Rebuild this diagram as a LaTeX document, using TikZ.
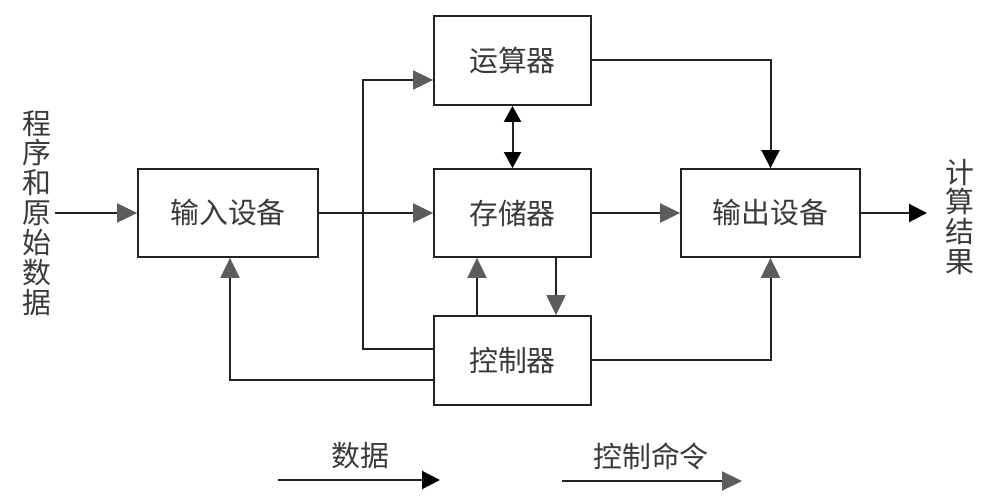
\documentclass[tikz,border=0pt]{standalone}
\usepackage{fontspec}
\newfontfamily\cjk{Noto Sans CJK SC}
\usetikzlibrary{arrows.meta}
\definecolor{ln}{HTML}{222222}
\definecolor{ctlgray}{HTML}{5C5C5C}
\definecolor{txt}{HTML}{3A3A3A}
\begin{document}
\begin{tikzpicture}[x=1bp,y=-1bp,
  box/.style={draw=ln,line width=1.8bp,inner sep=0pt,text=txt,
    font=\cjk\fontsize{29}{30}\selectfont},
  lbl/.style={inner sep=0pt,text=txt,align=center,
    font=\cjk\fontsize{29}{30}\selectfont},
  ctrl/.style={draw=ln,line width=2bp,
    -{Triangle[length=20bp,width=19bp,color=ctlgray]}},
  data/.style={draw=ln,line width=2bp,
    -{Triangle[length=18bp,width=18bp,color=black]}},
  both/.style={draw=ln,line width=2bp,
    {Triangle[length=16bp,width=17bp,color=black]}-{Triangle[length=16bp,width=17bp,color=black]}}]
\useasboundingbox (0,0) rectangle (992,502);
\node[box,minimum width=180bp,minimum height=88bp] (in) at (228,213) {输入设备};
\node[box,minimum width=157bp,minimum height=89bp] (alu) at (512.5,60.5) {运算器};
\node[box,minimum width=157bp,minimum height=88bp] (mem) at (512.5,213) {存储器};
\node[box,minimum width=157bp,minimum height=89bp] (ctl) at (512.5,360.5) {控制器};
\node[box,minimum width=179bp,minimum height=88bp] (out) at (770.5,213) {输出设备};
\node[lbl] (srclbl) at (37,213) {程\\序\\和\\原\\始\\数\\据};
\node[lbl] (reslbl) at (960,217) {计\\算\\结\\果};
\coordinate (src) at (55,213);
\coordinate (res) at (927,213);
\draw[ctrl] (src) -- (in.west);
\draw[ctrl] (in.east) -- (mem.west);
\draw[ctrl] (ctl.west |- 0,349) -| (363,80) -- (alu.west |- 0,80);
\draw[both] (alu.south) -- (mem.north);
\draw[ctrl] (ctl.north -| 477,0) -- (mem.south -| 477,0);
\draw[ctrl] (mem.south -| 556,0) -- (ctl.north -| 556,0);
\draw[ctrl] (ctl.west |- 0,380) -| (in.south -| 230,0);
\draw[data] (alu.east |- 0,60) -| (out.north);
\draw[ctrl] (mem.east) -- (out.west);
\draw[ctrl] (ctl.east |- 0,360) -| (out.south);
\draw[data] (out.east) -- (res);
% legend
\node[lbl] (lgdata) at (360,456) {数据};
\node[lbl] (lgctl) at (651,456) {控制命令};
\coordinate (da) at (278,480);
\coordinate (db) at (440,480);
\coordinate (ca) at (562,481);
\coordinate (cb) at (742,481);
\draw[data] (da) -- (db);
\draw[ctrl] (ca) -- (cb);
\end{tikzpicture}
\end{document}
